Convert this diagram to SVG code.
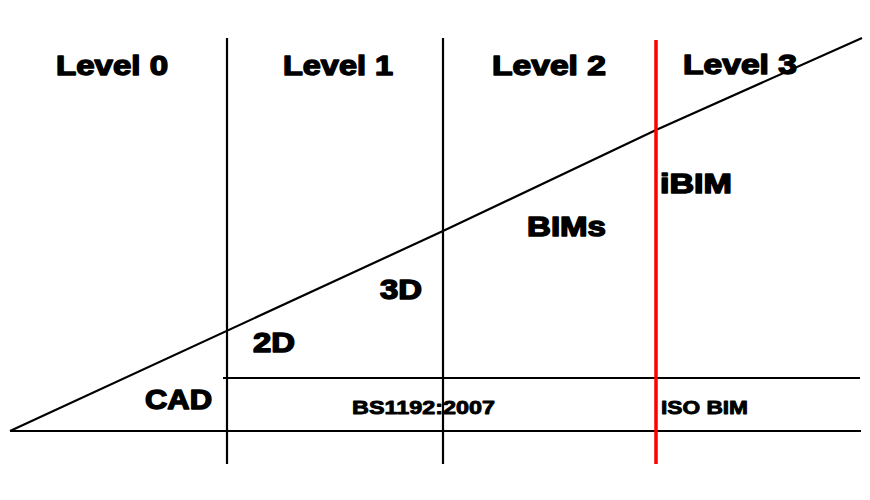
<svg xmlns="http://www.w3.org/2000/svg" width="870" height="500" viewBox="0 0 870 500">
<style>
.ln{stroke:#000;stroke-width:2.2;fill:none}
.red{stroke:#f00;stroke-width:3.5;fill:none}
.t{font-family:"Liberation Sans",Arial,sans-serif;font-weight:bold;fill:#000;stroke:#000;stroke-width:1.5;stroke-linejoin:round}
.big{font-size:28px}
.sm{font-size:19px;stroke-width:0.9}
</style>
<rect width="870" height="500" fill="#fff"/>
<g id="connectors">
<line class="ln" x1="227" y1="38" x2="227" y2="464"/>
<line class="ln" x1="443" y1="38" x2="443" y2="464"/>
<line class="ln" x1="10" y1="431" x2="861" y2="431"/>
<line class="ln" x1="223" y1="378" x2="860" y2="378"/>
<path class="ln" d="M10,431 L443,231 L656,130 L862,38"/>
<line class="red" x1="656" y1="40" x2="656" y2="464"/>
</g>
<g id="level0"><text class="t big" x="56" y="75" textLength="112" lengthAdjust="spacingAndGlyphs">Level 0</text></g>
<g id="level1"><text class="t big" x="283" y="75" textLength="110" lengthAdjust="spacingAndGlyphs">Level 1</text></g>
<g id="level2"><text class="t big" x="492" y="75" textLength="114" lengthAdjust="spacingAndGlyphs">Level 2</text></g>
<g id="level3"><text class="t big" x="683" y="74" textLength="114" lengthAdjust="spacingAndGlyphs">Level 3</text></g>
<g id="ibim"><text class="t big" x="660" y="193" textLength="72" lengthAdjust="spacingAndGlyphs">iBIM</text></g>
<g id="bims"><text class="t big" x="527" y="236" textLength="79" lengthAdjust="spacingAndGlyphs">BIMs</text></g>
<g id="d3"><text class="t big" x="380" y="299" textLength="42" lengthAdjust="spacingAndGlyphs">3D</text></g>
<g id="d2"><text class="t big" x="253" y="352" textLength="42" lengthAdjust="spacingAndGlyphs">2D</text></g>
<g id="cad"><text class="t big" x="145" y="409" textLength="67" lengthAdjust="spacingAndGlyphs">CAD</text></g>
<g id="bs"><text class="t sm" x="352" y="414" textLength="143" lengthAdjust="spacingAndGlyphs">BS1192:2007</text></g>
<g id="iso"><text class="t sm" x="661" y="414" textLength="87" lengthAdjust="spacingAndGlyphs">ISO BIM</text></g>
</svg>
